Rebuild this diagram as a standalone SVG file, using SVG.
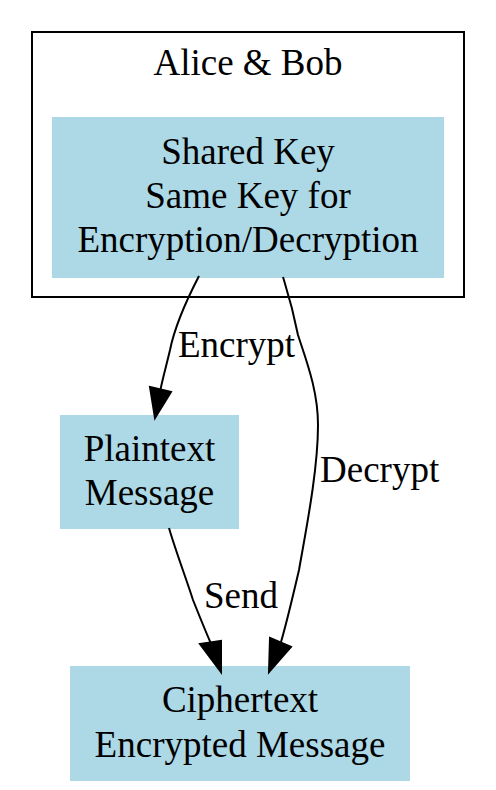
<svg xmlns="http://www.w3.org/2000/svg" width="496" height="790" viewBox="0 0 496 790">
<style>
text{font-family:"Liberation Serif","Times New Roman",serif;font-size:37px;fill:#000}
.node rect{fill:#ADD8E6;stroke:#ADD8E6;stroke-width:2}
.c{text-anchor:middle}
.edge{fill:none;stroke:#000;stroke-width:2}
.ah{fill:#000;stroke:#000;stroke-width:2}
</style>
<rect width="496" height="790" fill="#fff"/>
<g id="cluster_alice_bob">
<rect x="32" y="32" width="432" height="265" fill="none" stroke="#000" stroke-width="2"/>
<text class="c" x="248" y="75">Alice &amp; Bob</text>
</g>
<g id="shared_key" class="node">
<rect x="53" y="118" width="390" height="159"/>
<text class="c" x="248" y="164">Shared Key</text>
<text class="c" x="248" y="208">Same Key for</text>
<text class="c" x="248" y="252">Encryption/Decryption</text>
</g>
<g id="plaintext" class="node">
<rect x="61" y="416" width="177" height="112"/>
<text class="c" x="149.5" y="461">Plaintext</text>
<text class="c" x="149.5" y="505">Message</text>
</g>
<g id="ciphertext" class="node">
<rect x="71" y="667" width="338" height="113"/>
<text class="c" x="240" y="712">Ciphertext</text>
<text class="c" x="240" y="757">Encrypted Message</text>
</g>
<g id="connectors">
<g id="edge_encrypt">
<path class="edge" d="M199,276 C185,303 174,330 170,350 C167,363 163,377 160.5,389.5"/>
<polygon class="ah" points="150,387 171,392 155,418"/>
<text x="178" y="357">Encrypt</text>
</g>
<g id="edge_decrypt">
<path class="edge" d="M283,277 C287,290 292,305 298,335 C306,360 318,390 318,425 C318,470 306,530 299,570 C292,600 286,625 281,642"/>
<polygon class="ah" points="270,638 291,647 269,672"/>
<text x="320" y="482">Decrypt</text>
</g>
<g id="edge_send">
<path class="edge" d="M169,528 C176,552 186,578 193,600 C199,615 205,630 210.5,642.5"/>
<polygon class="ah" points="200,644 221,641 221,672"/>
<text x="204" y="608">Send</text>
</g>
</g>
</svg>
